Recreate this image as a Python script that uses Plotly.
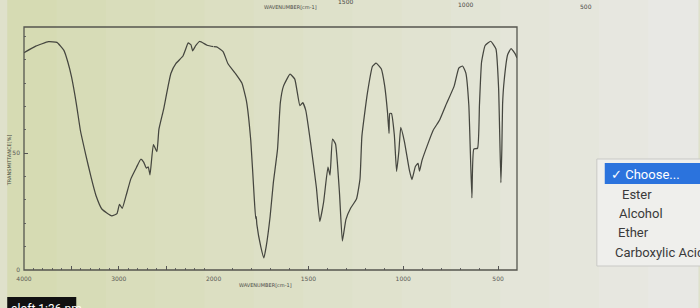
import plotly.graph_objects as go

# ---- data (wavenumber cm-1, transmittance %) ----
wavenumber = [4000, 3876, 3742, 3653, 3579, 3537, 3498, 3447, 3405, 3349, 3292, 3241, 3177,
              3075, 3020, 2993, 2964, 2925, 2872, 2814, 2768, 2738, 2710, 2689, 2671, 2635,
              2598, 2577, 2527, 2451, 2397, 2323, 2302, 2268, 2239, 2221, 2189, 2148, 2068,
              2000, 1984, 1950, 1925, 1886, 1851, 1827, 1804, 1786, 1778, 1775, 1772, 1751,
              1735, 1723, 1702, 1685, 1663, 1648, 1632, 1597, 1572, 1545, 1530, 1514, 1487,
              1458, 1440, 1420, 1397, 1386, 1373, 1357, 1336, 1321, 1302, 1277, 1246, 1228,
              1218, 1189, 1162, 1143, 1116, 1098, 1083, 1075, 1071, 1062, 1047, 1035, 1023,
              1013, 994, 967, 954, 936, 922, 914, 901, 869, 842, 808, 777, 731, 707, 687,
              670, 654, 638, 628, 608, 598, 587, 568, 539, 511, 497, 485, 480, 476, 468,
              449, 431, 408, 400]
transmittance = [93.0, 95.8, 97.7, 97.4, 94.0, 88.9, 82.5, 70.9, 59.7, 49.4, 39.6, 31.9, 26.0,
                 23.2, 24.1, 28.1, 26.4, 31.6, 39.1, 43.9, 47.4, 46.2, 43.6, 44.1, 40.7, 53.7,
                 50.7, 60.2, 68.9, 84.1, 88.4, 91.6, 93.7, 97.2, 96.4, 93.8, 96.0, 97.8, 96.2,
                 95.6, 95.5, 93.5, 88.4, 84.2, 80.0, 72.4, 55.4, 31.1, 22.0, 22.8, 19.5, 9.9,
                 5.2, 9.9, 22.9, 37.4, 51.6, 71.7, 78.6, 83.8, 81.7, 70.3, 71.6, 68.3, 53.5,
                 35.3, 20.8, 29.0, 44.0, 40.6, 56.0, 53.9, 32.7, 12.4, 21.7, 26.5, 30.5, 39.0,
                 57.3, 75.7, 87.2, 88.5, 86.1, 78.9, 67.5, 58.5, 67.0, 67.0, 57.9, 42.2, 50.8,
                 61.0, 55.1, 42.5, 38.7, 44.3, 45.6, 42.3, 46.9, 54.2, 59.8, 64.2, 70.2, 78.8, 86.4, 87.3,
                 84.4, 70.5, 30.9, 51.7, 52.1, 70.7, 88.9, 96.1, 97.9, 94.6, 77.8, 37.4, 51.5, 71.0, 80.8,
                 92.2, 94.8, 92.3, 90.7]

high_ticks = [4000, 3500, 3000, 2500]
high_labels = ["4000", "", "3000", ""]
low_ticks = [2000, 1500, 1000, 500]
low_labels = ["2000", "1500", "1000", "500"]
y_ticks = [0, 50]
y_labels = ["0", "50"]
menu_items = ["Ester", "Alcohol", "Ether", "Carboxylic Acid"]

# ---- geometry ----
W, H = 700, 308
L, R, T, B = 17, 517, 27, 270
PW, PH = R - L, B - T


def pxx(x):
    return (x - L) / PW


def pxy(y):
    return (B - y) / PH


split = 2 / 5.2  # 4000-2000 drawn at half the scale of 2000-400

hi_x = [w for w in wavenumber if w >= 2000]
hi_y = [t for w, t in zip(wavenumber, transmittance) if w >= 2000]
lo_x = [w for w in wavenumber if w <= 2000]
lo_y = [t for w, t in zip(wavenumber, transmittance) if w <= 2000]

line = dict(color="#45463f", width=1.25, shape="spline", smoothing=0.4)

fig = go.Figure()
fig.add_trace(go.Scatter(x=hi_x, y=hi_y, mode="lines", line=line, xaxis="x", yaxis="y",
                         showlegend=False, hoverinfo="skip"))
fig.add_trace(go.Scatter(x=lo_x, y=lo_y, mode="lines", line=line, xaxis="x2", yaxis="y",
                         showlegend=False, hoverinfo="skip"))

tickfont = dict(family="DejaVu Sans", size=6, color="#5a5a55")
axcommon = dict(showgrid=False, zeroline=False, showline=False, ticks="inside", ticklen=4,
                tickcolor="#555", tickwidth=1, tickfont=tickfont, ticklabelstandoff=4,
                minor=dict(ticks="inside", ticklen=2, tickcolor="#666", tick0=0, dtick=100))

shapes = []
# background gradient of the photographed screen
c0 = (0xd6, 0xdb, 0xb3)
c1 = (0xe8, 0xe8, 0xe4)
n = 14
for i in range(n):
    f = i / (n - 1)
    col = tuple(int(round(a + (b - a) * f)) for a, b in zip(c0, c1))
    shapes.append(dict(type="rect", xref="paper", yref="paper", layer="below",
                       x0=pxx(i * W / n), x1=pxx((i + 1) * W / n + 1), y0=pxy(H), y1=pxy(0),
                       fillcolor="rgb(%d,%d,%d)" % col, line=dict(width=0)))
# frame of the spectrum
shapes.append(dict(type="rect", xref="paper", yref="paper", x0=0, x1=1, y0=0, y1=1,
                   line=dict(color="#55564f", width=1.3)))
# bottom-left black tag
shapes.append(dict(type="rect", xref="paper", yref="paper", x0=pxx(0), x1=pxx(70),
                   y0=pxy(308), y1=pxy(297), fillcolor="#111", line=dict(width=0)))
# dropdown menu
shapes.append(dict(type="rect", xref="paper", yref="paper", x0=pxx(598), x1=pxx(706),
                   y0=pxy(266), y1=pxy(159), fillcolor="#efefec",
                   line=dict(color="#c9c9c6", width=1)))
shapes.append(dict(type="rect", xref="paper", yref="paper", x0=pxx(606), x1=pxx(706),
                   y0=pxy(184), y1=pxy(163), fillcolor="#2b73dd", line=dict(width=0)))

ann = []


def text(t, x, y, size, color="#444", xanchor="center", yanchor="middle", angle=0,
         family="DejaVu Sans"):
    ann.append(dict(text=t, x=pxx(x), y=pxy(y), xref="paper", yref="paper", showarrow=False,
                    xanchor=xanchor, yanchor=yanchor, textangle=angle,
                    font=dict(size=size, color=color, family=family)))


# labels of the spectrum above (scrolled off)
text("WAVENUMBER[cm-1]", 287, 7, 5, "#4a4a46")
text("1500", 343, 2, 6, "#4a4a46")
text("1000", 465, 4, 6, "#4a4a46")
text("500", 587, 6, 6, "#4a4a46")
# axis titles
text("WAVENUMBER[cm-1]", 262, 285, 5, "#4a4a46")
text("TRANSMITTANCE[%]", 2, 160, 5, "#4a4a46", angle=-90)
# black tag
text("aloft 1:36 pm", 2, 300, 12, "#ffffff", xanchor="left", yanchor="top",
     family="Roboto")
# menu
text("\u2713 Choose...", 610, 174, 13, "#ffffff", xanchor="left", family="Roboto")
menu_pos = [(621, 194), (618, 213), (617, 232), (614, 252)]
for item, (mx, my) in zip(menu_items, menu_pos):
    text(item, mx, my, 13, "#3a3a3a", xanchor="left", family="Roboto")

fig.update_layout(
    width=W, height=H, autosize=False,
    margin=dict(l=L, r=W - R, t=T, b=H - B, pad=0),
    paper_bgcolor="#dfe1cb", plot_bgcolor="rgba(0,0,0,0)",
    xaxis=dict(domain=[0, split], range=[4000, 2000], anchor="y",
               tickmode="array", tickvals=high_ticks, ticktext=high_labels, **axcommon),
    xaxis2=dict(domain=[split, 1], range=[2000, 400], anchor="y",
                tickmode="array", tickvals=low_ticks, ticktext=low_labels, **axcommon),
    yaxis=dict(range=[0, 104], anchor="x", showgrid=False, zeroline=False, showline=False,
               tickmode="array", tickvals=y_ticks, ticktext=y_labels, ticks="inside",
               ticklen=4, tickcolor="#555", tickfont=tickfont, ticklabelstandoff=3,
               minor=dict(ticks="inside", ticklen=2, tickcolor="#666", tick0=0, dtick=10)),
    shapes=shapes, annotations=ann,
)

fig.write_html("out.html")
